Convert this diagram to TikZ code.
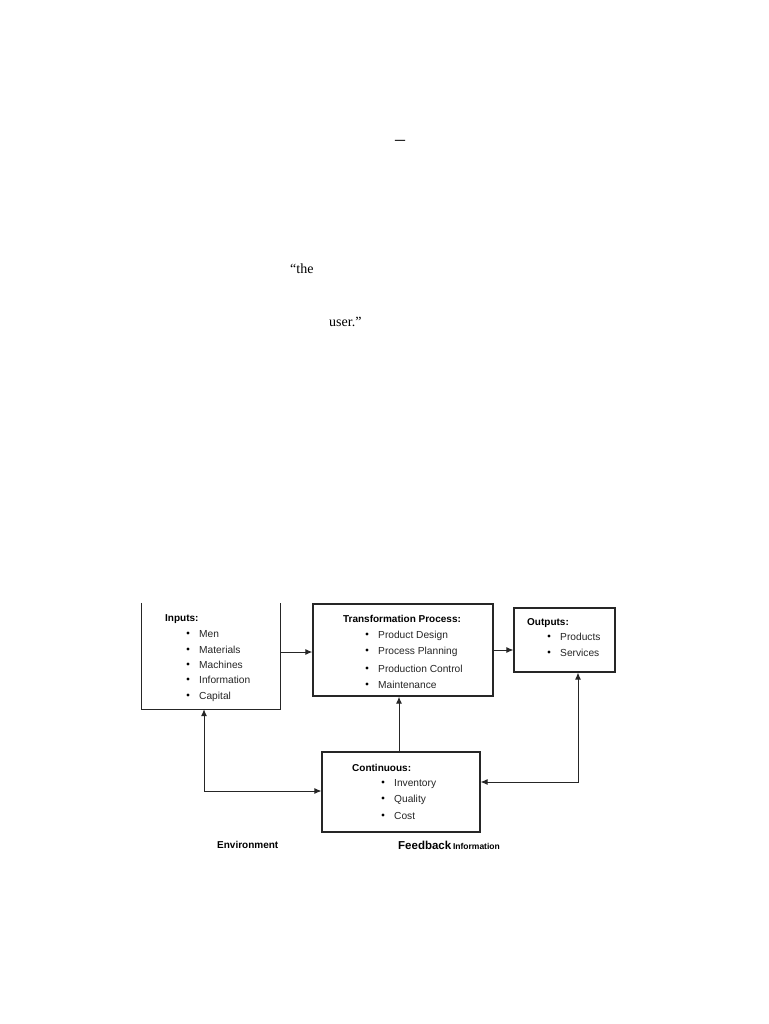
\documentclass[tikz,border=0pt]{standalone}
\usepackage{fontspec}
\setmainfont{Liberation Sans}
\newfontfamily\serifont{Liberation Serif}
\usetikzlibrary{arrows.meta}
\begin{document}
\begin{tikzpicture}[x=1pt,y=-1pt,
  boxline/.style={draw=black!85, line width=1.1pt},
  tip/.tip={Latex[length=7pt,width=6pt]},
  conn/.style={draw=black!85, line width=1pt, -tip},
  conn2/.style={draw=black!85, line width=1pt, tip-tip},
  ttl/.style={font=\fontsize{10}{12}\selectfont\bfseries, anchor=base west, inner sep=0pt},
  itm/.style={font=\fontsize{10.2}{12}\selectfont, anchor=base west, inner sep=0pt, text=black!85},
  bul/.style={circle, fill=black, inner sep=0pt, minimum size=3.2pt},
  srf/.style={font=\serifont\fontsize{14}{16}\selectfont, anchor=base west, inner sep=0pt}]
\useasboundingbox (0,0) rectangle (768,1024);
\fill[white] (0,0) rectangle (768,1024);

% top stray text
\node[srf, font=\serifont\fontsize{20}{22}\selectfont] (dash) at (395,146) {–};
\node[srf] (the) at (290,273) {“the};
\node[srf] (user) at (329,326) {user.”};

% boxes
\node[minimum width=138pt, minimum height=106pt, inner sep=0pt] (inputs) at (211,656) {};
\draw[boxline] (inputs.north west) -- (inputs.south west) -- (inputs.south east) -- (inputs.north east);
\node[boxline, minimum width=180pt, minimum height=92pt, inner sep=0pt, line width=1.4pt] (trans) at (403,650) {};
\node[boxline, minimum width=101pt, minimum height=64pt, inner sep=0pt] (outputs) at (564.5,640) {};
\node[boxline, minimum width=158pt, minimum height=80pt, inner sep=0pt] (cont) at (401,792) {};

% inputs text
\node[ttl] (tin) at (165,621) {Inputs:};
\foreach \t/\y [count=\i] in {Men/633,Materials/649,Machines/664,Information/679,Capital/695}{
  \node[bul] (bi\i) at (188,\y) {};
  \node[itm] (ii\i) at (199,\y+4) {\t};
}
% transformation text
\node[ttl, anchor=base] (ttr) at (402,622) {Transformation Process:};
\foreach \t/\y [count=\i] in {Product Design/634,Process Planning/650,Production Control/668,Maintenance/684}{
  \node[bul] (bt\i) at (367,\y) {};
  \node[itm] (it\i) at (378,\y+4) {\t};
}
% outputs text
\node[ttl] (tout) at (527,625) {Outputs:};
\foreach \t/\y [count=\i] in {Products/636,Services/652}{
  \node[bul] (bo\i) at (549,\y) {};
  \node[itm] (io\i) at (560,\y+4) {\t};
}
% continuous text
\node[ttl] (tcont) at (352,771) {Continuous:};
\foreach \t/\y [count=\i] in {Inventory/782,Quality/798,Cost/815}{
  \node[bul] (bc\i) at (383,\y) {};
  \node[itm] (ic\i) at (394,\y+4) {\t};
}

% labels
\node[ttl] (env) at (217,848) {Environment};
\node[font=\fontsize{11.5}{13}\selectfont\bfseries, anchor=base west, inner sep=0pt] (fb) at (398,849) {Feedback};
\node[font=\fontsize{8.5}{10}\selectfont\bfseries, anchor=base west, inner sep=0pt] (info) at (fb.base east) {\,Information};

% connectors
\draw[conn] (inputs.east |- 0,652) -- (trans.west |- 0,652);
\draw[conn] (trans.east |- 0,650) -- (outputs.west |- 0,650);
\draw[conn] (cont.north -| 399,0) -- (trans.south -| 399,0);
\coordinate (lc) at (204,791);
\draw[conn2] (inputs.south -| 204,0) -- (lc) -- (cont.west |- lc);
\coordinate (rc) at (578,782);
\draw[conn2] (outputs.south -| 578,0) -- (rc) -- (cont.east |- rc);
\end{tikzpicture}
\end{document}
